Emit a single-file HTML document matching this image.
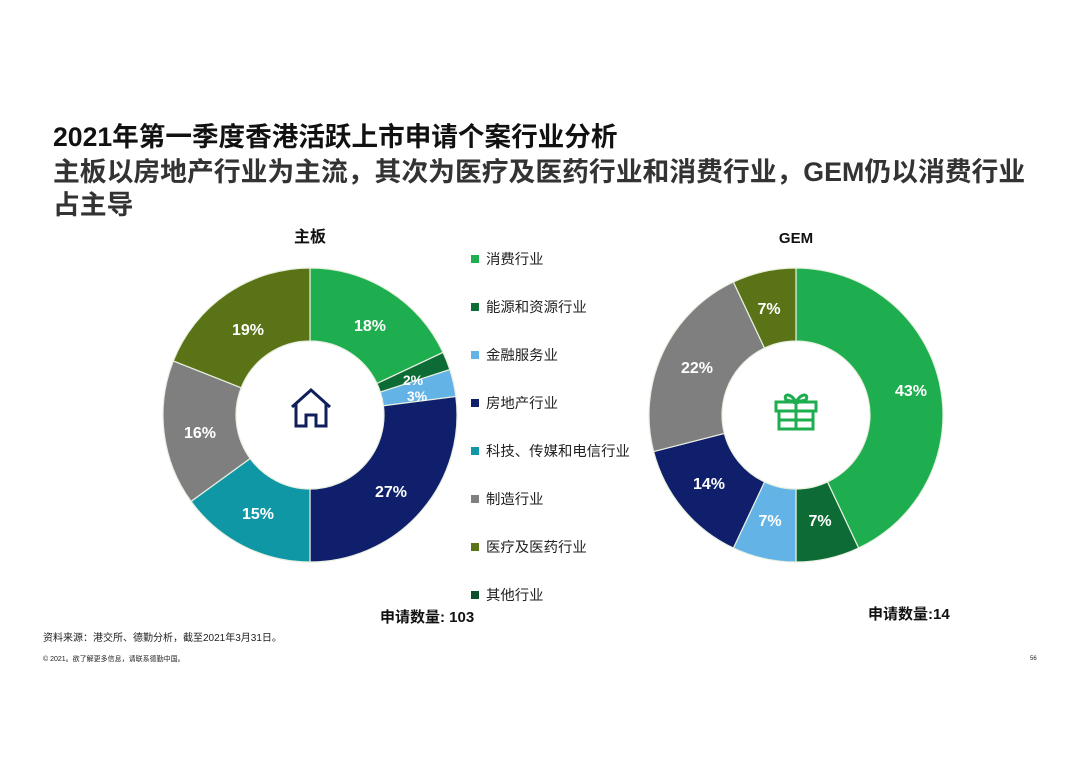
<!DOCTYPE html>
<html><head><meta charset="utf-8"><style>
body{margin:0;background:#fff;}
svg text{font-family:"Liberation Sans","Noto Sans CJK SC",sans-serif;}
</style></head><body>
<svg id="s" width="1080" height="763" viewBox="0 0 1080 763" xmlns="http://www.w3.org/2000/svg">
<rect width="1080" height="763" fill="#fff"/>
<text x="53" y="146" font-size="26.6" font-weight="bold" fill="#111">2021年第一季度香港活跃上市申请个案行业分析</text>
<text x="53" y="181" font-size="26.8" font-weight="bold" fill="#333">主板以房地产行业为主流，其次为医疗及医药行业和消费行业，GEM仍以消费行业</text>
<text x="53" y="214" font-size="26.8" font-weight="bold" fill="#333">占主导</text>
<text x="310" y="242" font-size="16" font-weight="bold" text-anchor="middle" fill="#111">主板</text>
<text x="796" y="243" font-size="15" font-weight="bold" text-anchor="middle" fill="#111">GEM</text>
<g id="d1"></g><g id="d2"></g>
<g font-size="16" font-weight="bold" fill="#fff" text-anchor="middle">
<text x="370" y="331">18%</text><text x="413" y="385" font-size="14">2%</text><text x="417" y="401" font-size="14">3%</text>
<text x="391" y="497">27%</text><text x="258" y="519">15%</text><text x="200" y="438">16%</text><text x="248" y="335">19%</text>
<text x="911" y="396">43%</text><text x="820" y="526">7%</text><text x="770" y="526">7%</text>
<text x="709" y="489">14%</text><text x="697" y="373">22%</text><text x="769" y="314">7%</text>
</g>
<path d="M292 407 L311 390 L330 407 M296 404 V426 H306 V415 H316 V426 H326 V404" fill="none" stroke="#0f1f5b" stroke-width="3" stroke-linejoin="miter"/>
<g fill="none" stroke="#1fae4f" stroke-width="3">
<rect x="776" y="402" width="40" height="9"/><rect x="779" y="411" width="34" height="18"/>
<line x1="796" y1="402" x2="796" y2="429"/><line x1="779" y1="420" x2="813" y2="420"/>
<path d="M796 402 C790 392 783 394 786 400 Z M796 402 C802 392 809 394 806 400 Z"/>
</g>
<g font-size="14.4" fill="#222">
<rect x="471" y="255" width="8" height="8" fill="#1fae4f"/><text x="486" y="264">消费行业</text>
<rect x="471" y="303" width="8" height="8" fill="#0d6b35"/><text x="486" y="312">能源和资源行业</text>
<rect x="471" y="351" width="8" height="8" fill="#63b3e6"/><text x="486" y="360">金融服务业</text>
<rect x="471" y="399" width="8" height="8" fill="#0f1f6b"/><text x="486" y="408">房地产行业</text>
<rect x="471" y="447" width="8" height="8" fill="#0f97a6"/><text x="486" y="456">科技、传媒和电信行业</text>
<rect x="471" y="495" width="8" height="8" fill="#7f7f7f"/><text x="486" y="504">制造行业</text>
<rect x="471" y="543" width="8" height="8" fill="#5a7316"/><text x="486" y="552">医疗及医药行业</text>
<rect x="471" y="591" width="8" height="8" fill="#0d4f2a"/><text x="486" y="600">其他行业</text>
</g>
<text x="380" y="622" font-size="15" font-weight="bold" fill="#111">申请数量: 103</text>
<text x="868" y="619" font-size="15" font-weight="bold" fill="#111">申请数量:14</text>
<text x="43" y="641" font-size="10" fill="#222">资料来源：港交所、德勤分析，截至2021年3月31日。</text>
<text x="43" y="661" font-size="7" fill="#222">© 2021。欲了解更多信息，请联系德勤中国。</text>
<text x="1030" y="660" font-size="6" fill="#222">56</text>
</svg>
<script>
function donut(id,cx,cy,R,r,data){
  var g=document.getElementById(id),a=0,s='';
  data.forEach(function(d){
    var a0=a,a1=a+d[0]/100*2*Math.PI;a=a1;
    function p(rad,an){return [cx+rad*Math.sin(an),cy-rad*Math.cos(an)];}
    var A=p(R,a0),B=p(R,a1),C=p(r,a1),D=p(r,a0),L=(a1-a0)>Math.PI?1:0;
    s+='<path d="M'+A+' A'+R+' '+R+' 0 '+L+' 1 '+B+' L'+C+' A'+r+' '+r+' 0 '+L+' 0 '+D+'Z" fill="'+d[1]+'" stroke="#e8f0e0" stroke-width="1.2"/>';
  });
  g.innerHTML=s;
}
donut('d1',310,415,147,74,[[18,'#1fae4f'],[2,'#0d6b35'],[3,'#63b3e6'],[27,'#0f1f6b'],[15,'#0f97a6'],[16,'#7f7f7f'],[19,'#5a7316']]);
donut('d2',796,415,147,74,[[43,'#1fae4f'],[7,'#0d6b35'],[7,'#63b3e6'],[14,'#0f1f6b'],[22,'#7f7f7f'],[7,'#5a7316']]);
</script>
</body></html>
